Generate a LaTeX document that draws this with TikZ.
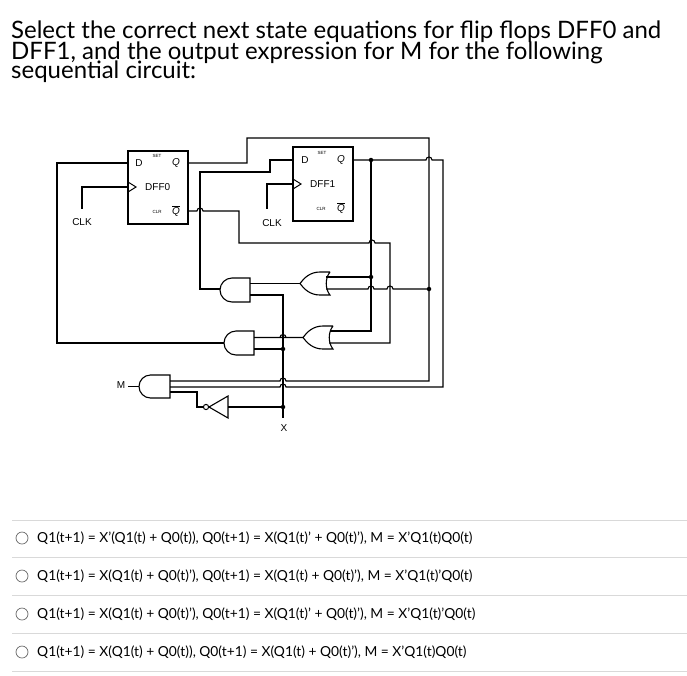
\documentclass[tikz,border=0pt]{standalone}
\usepackage{fontspec}
\setmainfont{Lato}
\newfontfamily\arial{Liberation Sans}
\begin{document}
\begin{tikzpicture}[x=1pt,y=-1pt,
  wire/.style={line width=1.1pt,line join=miter},
  gate/.style={line width=1.1pt,fill=white},
  dot/.style={circle,fill=black,inner sep=0pt,minimum size=4.5pt},
  ff/.style={draw,line width=1.1pt,rectangle,inner sep=0pt},
  lab/.style={font=\arial\fontsize{10}{10}\selectfont,inner sep=0pt},
  tiny/.style={font=\arial\fontsize{4.5}{4.5}\selectfont,inner sep=0pt},
  opt/.style={font=\fontsize{13.8}{13.8}\selectfont,anchor=west,inner sep=0pt},
  ttl/.style={anchor=west,inner sep=0pt,font=\fontsize{24}{24}\selectfont},
  sep/.style={draw=black!15,line width=0.8pt},
  radio/.style={circle,draw=black!60,line width=0.7pt,minimum size=12pt,inner sep=0pt}]
\useasboundingbox (0,0) rectangle (687,675);
\def\hh#1#2{-- ({#1-3},#2) arc[start angle=180,end angle=360,radius=3]}
% title
\node[ttl] (t1) at (11,32) {Select the correct next state equations for flip flops DFF0 and};
\node[ttl] (t2) at (11,52.5) {DFF1, and the output expression for M for the following};
\node[ttl] (t3) at (11,72) {sequential circuit:};
% flip flops
\node[ff,minimum width=60pt,minimum height=73pt] (f0) at (158,187.5) {};
\node[ff,minimum width=60pt,minimum height=74pt] (f1) at (323,184) {};
\draw[line width=1pt] (128,182) -- (136,187) -- (128,192);
\draw[line width=1pt] (293,179) -- (301,184) -- (293,189);
\node[lab] (d0) at (139,163) {D};
\node[tiny] (s0) at (157,156) {SET};
\node[lab,font=\arial\itshape\fontsize{10}{10}\selectfont] (q0) at (176,163) {Q};
\node[lab,anchor=west] (n0) at (145,187) {DFF0};
\node[tiny] (c0) at (157,212) {CLR};
\node[lab,font=\arial\itshape\fontsize{10}{10}\selectfont] (qb0) at (176,211) {$\overline{\mbox{Q}}$};
\node[lab] (d1) at (305,160) {D};
\node[tiny] (s1) at (322,153) {SET};
\node[lab,font=\arial\itshape\fontsize{10}{10}\selectfont] (q1) at (341,160) {Q};
\node[lab,anchor=west] (n1) at (310,184) {DFF1};
\node[tiny] (c1) at (321,209) {CLR};
\node[lab,font=\arial\itshape\fontsize{10}{10}\selectfont] (qb1) at (341,208) {$\overline{\mbox{Q}}$};
\node[lab] (clk0) at (82,222) {CLK};
\node[lab] (clk1) at (272,223) {CLK};
\node[lab] (xl) at (284,428) {X};
\node[lab] (ml) at (121,385) {M};
% gates
\draw[gate] (250,278) -- (232,278) arc[start angle=270,end angle=90,radius=12] -- (250,302) -- cycle;
\draw[gate] (254,331) -- (236,331) arc[start angle=270,end angle=90,radius=12] -- (254,355) -- cycle;
\draw[gate] (170,375) -- (150.5,375) arc[start angle=270,end angle=90,radius=11.5] -- (170,398) -- cycle;
\draw[gate] (330,272) -- (320,272) .. controls (310,272) and (304,278) .. (300,283.5) .. controls (304,289) and (310,295) .. (320,295) -- (330,295) .. controls (325,289) and (325,278) .. (330,272);
\draw[gate] (333,326) -- (323,326) .. controls (313,326) and (307,332) .. (303,337.5) .. controls (307,343) and (313,349) .. (323,349) -- (333,349) .. controls (328,343) and (328,332) .. (333,326);
\draw[gate] (228,396) -- (209,407) -- (228,418) -- cycle;
\draw[line width=1pt,fill=white] (206,407) circle (2.6);
% named points
\coordinate (a1o) at (220,289); \coordinate (a2o) at (224,343);
\coordinate (o1o) at (300,283.5); \coordinate (o2o) at (303,337.5);
\coordinate (mo) at (139,386.5); \coordinate (xe) at (283,418);
% wires
\draw[wire] (f0.west|-d0) -- (57,163) -- (57,343) -- (a2o);
\draw[wire] (128,187) -- (82,187) -- (82,209);
\draw[wire] (293,184) -- (267,184) -- (267,209);
\draw[wire] (f0.east|-q0) -- (247,163) -- (247,138) -- (429,138) -- (429,381) -- (286,381) arc[start angle=0,end angle=-180,radius=3] -- (170,381);
\draw[wire] (f1.east|-q1) \hh{429}{160} -- (443,160) -- (443,387) -- (286,387) arc[start angle=0,end angle=-180,radius=3] -- (170,387);
\draw[wire] (f0.east|-qb0) \hh{200}{211} -- (239,211) -- (239,243) \hh{372}{243} -- (390,243) -- (390,343) -- (329,343);
\draw[wire] (f1.west|-d1) -- (270,160) -- (270,172) -- (200,172) -- (200,289) -- (a1o);
\draw[wire] (o1o) -- (250,283.5);
\draw[wire] (250,295) -- (283,295) -- (xe);
\draw[wire] (371,160) -- (371,331) -- (330,331);
\draw[wire] (371,277) -- (326,277);
\draw[wire] (429,289) -- (393,289) arc[start angle=0,end angle=-180,radius=3] -- (374,289) arc[start angle=0,end angle=-180,radius=3] -- (326,289);
\draw[wire] (o2o) \hh{283}{337.5} -- (254,337.5);
\draw[wire] (254,349) -- (283,349);
\draw[wire] (mo) -- (128,386.5);
\draw[wire] (170,392) -- (197,392) -- (197,407) -- (203.4,407);
\draw[wire] (228,407) -- (283,407);
\node[dot] (j1) at (371,160) {};
\node[dot] (j2) at (371,277) {};
\node[dot] (j3) at (429,289) {};
\node[dot] (j4) at (283,349) {};
\node[dot] (j5) at (283,407) {};
% options
\foreach \y in {520,557,595,633,671} \draw[sep] (12,\y) -- (687,\y);
\node[radio] (r1) at (22,538) {}; \node[opt] (o1) at (37,538) {Q1(t+1) = X'(Q1(t) + Q0(t)), Q0(t+1) = X(Q1(t)' + Q0(t)'), M = X'Q1(t)Q0(t)};
\node[radio] (r2) at (22,576) {}; \node[opt] (o2) at (37,576) {Q1(t+1) = X(Q1(t) + Q0(t)'), Q0(t+1) = X(Q1(t) + Q0(t)'), M = X'Q1(t)'Q0(t)};
\node[radio] (r3) at (22,614) {}; \node[opt] (o3) at (37,614) {Q1(t+1) = X(Q1(t) + Q0(t)'), Q0(t+1) = X(Q1(t)' + Q0(t)'), M = X'Q1(t)'Q0(t)};
\node[radio] (r4) at (22,652) {}; \node[opt] (o4) at (37,652) {Q1(t+1) = X(Q1(t) + Q0(t)), Q0(t+1) = X(Q1(t) + Q0(t)'), M = X'Q1(t)Q0(t)};
\end{tikzpicture}
\end{document}
